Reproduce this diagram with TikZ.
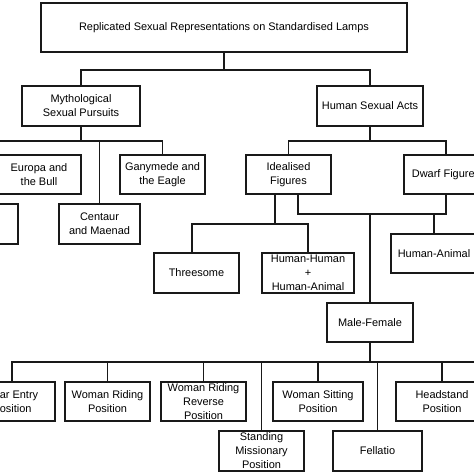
\documentclass[tikz,border=0pt]{standalone}
\usepackage{fontspec}
\setmainfont{Liberation Sans}
\usetikzlibrary{positioning}

\tikzset{
  box/.style={draw=black!90, line width=1.1bp, inner sep=1bp, align=center,
    minimum height=39bp, font=\fontsize{11}{14}\selectfont, text=black},
  link/.style={draw=black!90, line width=1.1bp},
  trunk/.style={draw=black!90, line width=2.4bp}
}

\begin{document}
\begin{tikzpicture}[x=1bp,y=-1bp]
    \useasboundingbox (0,0) rectangle (474,474);
    \clip (0,0) rectangle (474,474);

    % top and second level
    \node[box, minimum width=366bp, minimum height=49bp] (lamps) at (224,27.5) {Replicated Sexual Representations on Standardised Lamps};
    \node[box, minimum width=118bp, minimum height=40bp] (myth) at (81,106) {Mythological\\Sexual Pursuits};
    \node[box, minimum width=106bp, minimum height=40bp] (acts) at (370,106) {Human Sexual Acts};

    % mythological pursuits
    \node[box, minimum width=84bp] (europa) at (39,174.5) {Europa and\\the Bull};
    \node[box, minimum width=85bp] (ganymede) at (162.5,174.5) {Ganymede and\\the Eagle};
    \node[box, minimum width=84bp, minimum height=40bp] (leftcut) at (-24,224) {};% cut off at the edge
    \node[box, minimum width=81bp, minimum height=40bp] (centaur) at (99.5,224) {Centaur\\and Maenad};

    % human acts
    \node[box, minimum width=85bp] (ideal) at (288.5,174.5) {Idealised\\Figures};
    \node[box, minimum width=84bp] (dwarf) at (446,174.5) {Dwarf Figures};
    \node[box, minimum width=85bp, minimum height=40bp] (three) at (196.5,273) {Threesome};
    \node[box, minimum width=92bp, minimum height=40bp] (mixed) at (308,273) {Human-Human\\+\\Human-Animal};
    \node[box, minimum width=86bp] (hanimal) at (434,253.5) {Human-Animal};
    \node[box, minimum width=86bp] (malefem) at (370,322.5) {Male-Female};

    % positions
    \node[box, minimum width=86bp] (rear) at (12,401.5) {Rear Entry\\Position};
    \node[box, minimum width=85bp] (riding) at (107.5,401.5) {Woman Riding\\Position};
    \node[box, minimum width=85bp] (reverse) at (203.5,401.5) {Woman Riding\\Reverse\\Position};
    \node[box, minimum width=85bp, minimum height=40bp] (standing) at (261.5,451) {Standing\\Missionary\\Position};
    \node[box, minimum width=90bp] (sitting) at (318,401.5) {Woman Sitting\\Position};
    \node[box, minimum width=89bp, minimum height=40bp] (fellatio) at (377.5,451) {Fellatio};
    \node[box, minimum width=92bp] (headstand) at (442,401.5) {Headstand\\Position};

    \coordinate (busA) at (224,70);
    \coordinate (busB) at (0,141);
    \coordinate (busC) at (275,224);
    \coordinate (busD) at (298,214);
    \coordinate (busE) at (480,362);

    \draw [link] (lamps.south) -- (busA);
    \draw [link] (myth.north) -- (myth.north |- busA) -- (acts.north |- busA) -- (acts.north);

    \draw [link] (myth.south) -- (myth.south |- busB);
    \draw [link] (busB) -- (ganymede.north |- busB) -- (ganymede.north);
    \draw [link] (centaur.north) -- (centaur.north |- busB);

    \draw [link] (acts.south) -- (acts.south |- busB);
    \draw [link] (ideal.north) -- (ideal.north |- busB) -- (dwarf.north |- busB) -- (dwarf.north);

    \draw [link] (ideal.south -| busC) -- (busC);
    \draw [link] ([xshift=-4.5bp]three.north) |- (busC) -| (mixed.north);
    \draw [link] (ideal.south -| busD) -- (busD) -| (dwarf.south);
    \draw [link] (hanimal.north) -- (hanimal.north |- busD);
    \draw [trunk] (malefem.north |- busD) -- (malefem.north);

    \draw [trunk] (malefem.south) -- (malefem.south |- busE);
    \draw [link] (rear.north) |- (busE);
    \foreach \n in {riding,reverse,sitting,headstand}
        \draw [link] (\n.north) -- (\n.north |- busE);
    \draw [link, line width=1.6bp] (standing.north) -- (standing.north |- busE);
    \draw [link] (fellatio.north) -- (fellatio.north |- busE);
\end{tikzpicture}
\end{document}
